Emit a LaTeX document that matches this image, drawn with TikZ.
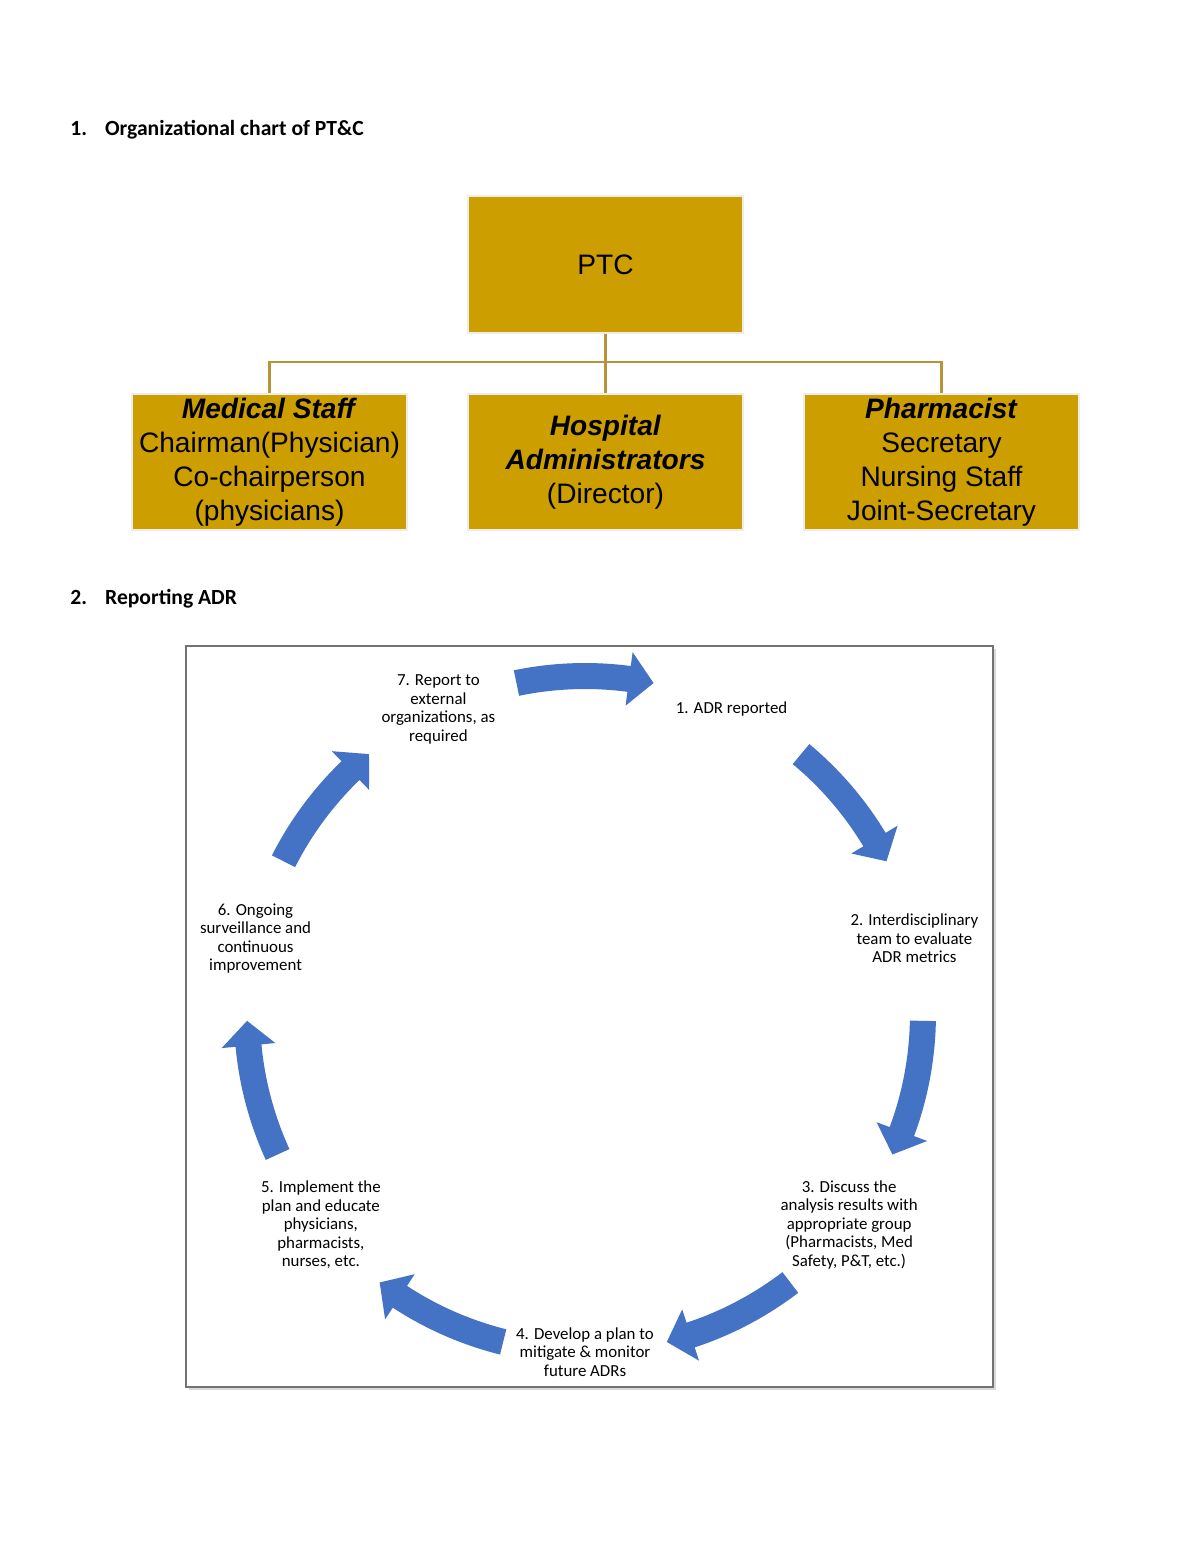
\documentclass[tikz,border=0pt]{standalone}
\usepackage{fontspec}
\setmainfont{Carlito}
\newfontfamily\arialfont{Liberation Sans}
\usetikzlibrary{positioning}
\definecolor{ptcgold}{RGB}{204,158,0}
\definecolor{ptcline}{RGB}{184,148,56}
\definecolor{cycblue}{RGB}{68,114,196}

\begin{document}
\begin{tikzpicture}[x=0.02cm, y=0.02cm,
  head/.style={font=\fontsize{12.3}{15}\selectfont\bfseries, anchor=base west, inner sep=0pt},
  org/.style={fill=ptcgold, draw=black!7, line width=1.1pt, minimum width=5.5cm, minimum height=2.73cm,
    inner sep=0pt, align=center, font=\arialfont\fontsize{16}{19.3}\selectfont},
  bus/.style={draw=ptcline, line width=1.2pt},
  stage/.style={align=center, inner sep=0pt, font=\fontsize{9.6}{10.5}\selectfont},
  cyc/.pic={\fill[cycblue] (101.7:351) arc[start angle=101.7, end angle=82.5, radius=351] -- (82.5:365)
    -- (78.3:338) -- (82.5:311) -- (82.5:325) arc[start angle=82.5, end angle=101.7, radius=325] -- cycle;}
]
\useasboundingbox (0,0) rectangle (1200,-1553);

\node[head] (t1) at (70,-135) {\makebox[19.8pt][l]{1.}Organizational chart of PT\&C};
\node[head] (t2) at (70,-604) {\makebox[19.8pt][l]{2.}Reporting ADR};

% org chart
\node[org, minimum height=2.74cm] (ptc) at (605.5,-264.5) {PTC};
\node[org] (med) at (269.5,-462) {\textbf{\textit{Medical Staff}}\\Chairman(Physician)\\Co-chairperson\\(physicians)};
\node[org] (adm) at (605.5,-462) {\textbf{\textit{Hospital}}\\\textbf{\textit{Administrators}}\\(Director)};
\node[org] (pha) at (941.5,-462) {\textbf{\textit{Pharmacist}}\\Secretary\\Nursing Staff\\Joint-Secretary};
\draw[bus] (ptc.south) -- (adm.north);
\draw[bus] (med.north) -- ++(0,31) -| (pha.north);

% ADR cycle
\fill[black!15] (189,-649) rectangle (996,-1390);
\draw[black!55, fill=white, line width=0.8pt] (186,-646) rectangle (993,-1387);
\coordinate (hub) at (585,-1014);

\node[stage] (s1) at ([shift={(64.3:338)}]hub) {1. ADR reported};
\node[stage] (s2) at ([shift={(12.9:338)}]hub) {2. Interdisciplinary\\team to evaluate\\ADR metrics};
\node[stage] (s3) at ([shift={(-38.6:338)}]hub) {3. Discuss the\\analysis results with\\appropriate group\\(Pharmacists, Med\\Safety, P\&T, etc.)};
\node[stage] (s4) at ([shift={(-90:338)}]hub) {4. Develop a plan to\\mitigate \& monitor\\future ADRs};
\node[stage] (s5) at ([shift={(-141.4:338)}]hub) {5. Implement the\\plan and educate\\physicians,\\pharmacists,\\nurses, etc.};
\node[stage] (s6) at ([shift={(167.1:338)}]hub) {6. Ongoing\\surveillance and\\continuous\\improvement};
\node[stage] (s7) at ([shift={(115.7:338)}]hub) {7. Report to\\external\\organizations, as\\required};

\pic at (hub) {cyc};
\pic[rotate=-51.43] at (hub) {cyc};
\pic[rotate=-102.86] at (hub) {cyc};
\pic[rotate=-154.29] at (hub) {cyc};
\pic[rotate=-205.71] at (hub) {cyc};
\pic[rotate=-257.14] at (hub) {cyc};
\pic[rotate=-308.57] at (hub) {cyc};
\end{tikzpicture}
\end{document}
